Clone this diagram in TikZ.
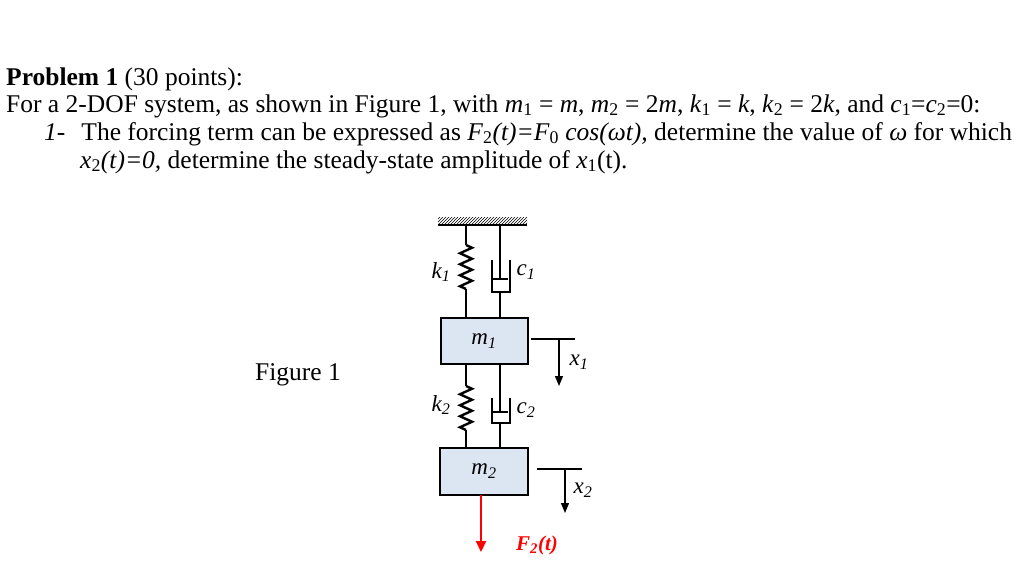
\documentclass[tikz,border=0pt]{standalone}
\usepackage{fontspec}
\setmainfont{Liberation Serif}
\usetikzlibrary{patterns,decorations.pathmorphing,arrows.meta}
\definecolor{massfill}{RGB}{220,230,242}
\begin{document}
\begin{tikzpicture}[x=1pt,y=-1pt,
  txt/.style={anchor=base west,inner sep=0pt,font=\fontsize{25.5}{28}\selectfont},
  lbl/.style={inner sep=0pt,font=\fontsize{23}{26}\selectfont\itshape},
  mass/.style={draw,line width=2.6pt,fill=massfill},
  el/.style={line width=2.4pt},
  spr/.style={el,decorate,decoration={zigzag,segment length=11pt,amplitude=6pt}}]
\useasboundingbox (0,0) rectangle (1024,576);
\node[txt] (t1) at (6,85) {\textbf{Problem 1} (30 points):};
\node[txt] (t2) at (6,112) {For a 2-DOF system, as shown in Figure 1, with \textit{m}\textsubscript{1} = \textit{m}, \textit{m}\textsubscript{2} = 2\textit{m}, \textit{k}\textsubscript{1} = \textit{k}, \textit{k}\textsubscript{2} = 2\textit{k}, and \textit{c}\textsubscript{1}=\textit{c}\textsubscript{2}=0:};
\node[txt] (t3) at (44,140) {\textit{1-}\hspace{16pt}The forcing term can be expressed as \textit{F}\textsubscript{2}\textit{(t)=F}\textsubscript{0}\textit{ cos(ωt),} determine the value of \textit{ω} for which};
\node[txt] (t4) at (80,168) {\textit{x}\textsubscript{2}\textit{(t)=0,} determine the steady-state amplitude of \textit{x}\textsubscript{1}(t).};
\node[txt] (fig) at (255,380) {Figure 1};
% ceiling
\fill[pattern=north east lines] (438,217) rectangle (527,225);
\draw[el] (438,225) -- (527,225);
% masses
\draw[mass] (441,318) rectangle (528,364);
\node[lbl] (m1) at (484,341) {m\textsubscript{1}};
\draw[mass] (440,448) rectangle (528,495);
\node[lbl] (m2) at (484,471) {m\textsubscript{2}};
% springs
\draw[el] (466,225) -- (466,245);
\draw[spr] (466,245) -- (466,289);
\draw[el] (466,289) -- (466,318);
\draw[el] (466,364) -- (466,386);
\draw[spr] (466,386) -- (466,430);
\draw[el] (466,430) -- (466,448);
\node[lbl] (k1) at (441,272) {k\textsubscript{1}};
\node[lbl] (k2) at (441,405) {k\textsubscript{2}};
% dampers
\draw[el] (500,225) -- (500,279);
\draw[el] (492,279) -- (508,279);
\draw[el] (492,260) -- (492,292) -- (510,292) -- (510,260);
\draw[el] (500,292) -- (500,318);
\draw[el] (500,364) -- (500,412);
\draw[el] (492,412) -- (508,412);
\draw[el] (492,398) -- (492,423) -- (510,423) -- (510,398);
\draw[el] (500,423) -- (500,448);
\node[lbl] (c1) at (526,272) {c\textsubscript{1}};
\node[lbl] (c2) at (526,410) {c\textsubscript{2}};
% displacements
\draw[line width=1.3pt] (531,339) -- (575,339);
\draw[line width=1.3pt,-{Triangle[length=10pt,width=8pt]}] (559,339) -- (559,386);
\node[lbl] (x1) at (579,362) {x\textsubscript{1}};
\draw[line width=1.3pt] (537,469) -- (582,469);
\draw[line width=1.3pt,-{Triangle[length=10pt,width=8pt]}] (565,469) -- (565,513);
\node[lbl] (x2) at (583,490) {x\textsubscript{2}};
% force
\draw[red,line width=2.2pt,-{Triangle[length=11pt,width=10pt]}] (481,495) -- (481,552);
\node[lbl,red,font=\fontsize{21}{24}\selectfont\bfseries\itshape] (F) at (537,545) {F\textsubscript{2}(t)};
\end{tikzpicture}
\end{document}
